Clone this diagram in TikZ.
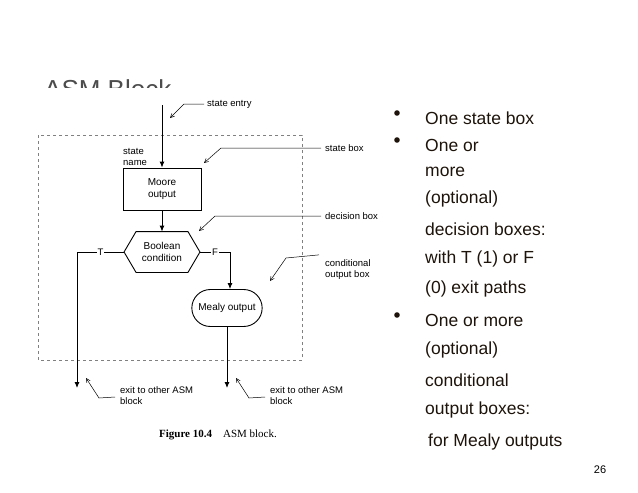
\documentclass[tikz,border=0pt]{standalone}
\usepackage{fontspec}
\setmainfont{Liberation Sans}
\newfontfamily\capfont{Liberation Serif}
\usetikzlibrary{shapes.misc,arrows.meta}
\begin{document}
\begin{tikzpicture}[x=1pt,y=-1pt,
  lbl/.style={font=\fontsize{9.5}{11}\selectfont,align=left,anchor=west,inner sep=0pt},
  flow/.style={draw,line width=0.9pt,-{Latex[length=6pt,width=5pt]}},
  ptr/.style={draw,line width=0.5pt,-{Straight Barb[length=4pt,width=4pt]}},
  blk/.style={draw,line width=0.9pt,font=\fontsize{10}{12}\selectfont,align=center},
  bul/.style={font=\fontsize{17.5}{19}\selectfont,anchor=west,inner sep=0pt,text=black!85!brown}]
\useasboundingbox (0,0) rectangle (638,493);
% clipped title
\begin{scope}
\clip (0,60) rectangle (300,87);
\node[anchor=west,inner sep=0pt,text=black!70,font=\fontsize{26}{28}\selectfont] (title) at (44,89) {ASM Block};
\end{scope}
% dashed block
\draw[dashed,gray,line width=0.5pt] (38,135) rectangle (302,360);
% boxes
\node[blk,minimum width=78pt,minimum height=42pt] (moore) at (162,189) {Moore\\output};
\node[blk,draw=none,minimum width=75pt,minimum height=40pt] (cond) at (162,252) {Boolean\\condition};
\draw[line width=0.9pt] (cond.west) -- ([xshift=12pt]cond.north west) -- ([xshift=-12pt]cond.north east) -- (cond.east) -- ([xshift=-12pt]cond.south east) -- ([xshift=12pt]cond.south west) -- cycle;
\node[blk,rounded rectangle,minimum width=77pt,minimum height=37pt] (mealy) at (227,308) {Mealy output};
\coordinate (entry) at (162,105);
\coordinate (tturn) at (77,252);
\coordinate (texit) at (77,388);
\coordinate (fturn) at (230,252);
\coordinate (fexit) at (227,388);
% flow
\draw[flow] (entry) -- (moore.north);
\draw[flow] (moore.south) -- (cond.north);
\draw[flow] (cond.west) -- node[fill=white,inner sep=1pt,font=\fontsize{9.5}{10}\selectfont]{T} (tturn) -- (texit);
\draw[flow] (cond.east) -- node[fill=white,inner sep=1pt,font=\fontsize{9.5}{10}\selectfont]{F} (fturn) -- (fturn|-mealy.north);
\draw[flow] (mealy.south) -- (fexit);
% labels
\node[lbl] (sentry) at (207,104) {state entry};
\node[lbl] (sname) at (123,157) {state\\name};
\node[lbl] (sbox) at (325,148) {state box};
\node[lbl] (dbox) at (325,216) {decision box};
\node[lbl] (cbox) at (325,270) {conditional\\output box};
\node[lbl] (ex1) at (120,396) {exit to other ASM\\block};
\node[lbl] (ex2) at (270,396) {exit to other ASM\\block};
\coordinate (p1) at (170,118); \coordinate (p2) at (204,163);
\coordinate (p3) at (199,231); \coordinate (p4) at (270,281);
\coordinate (p5) at (86,378); \coordinate (p6) at (236,378);
\draw[ptr] ([xshift=-3pt]sentry.west) -- (184,104) -- (p1);
\draw[ptr] ([xshift=-4pt]sbox.west) -- (221,148) -- (p2);
\draw[ptr] ([xshift=-4pt]dbox.west) -- (215,216) -- (p3);
\draw[ptr] ([xshift=-6pt,yshift=5pt]cbox.north west) -- (286,258) -- (p4);
\draw[ptr] ([xshift=-5pt,yshift=-1pt]ex1.west) -- (99,398) -- (p5);
\draw[ptr] ([xshift=-5pt,yshift=-1pt]ex2.west) -- (249,398) -- (p6);
\node[inner sep=0pt,font=\capfont\fontsize{11}{12}\selectfont] (fig) at (218,435) {\textbf{Figure 10.4}\quad ASM block.};
% bullets
\foreach \t/\y in {{One state box}/118,{One or}/145,{more}/172,{(optional)}/199,{decision boxes:}/229,{with T (1) or F}/259,{(0) exit paths}/289,{One or more}/320,{(optional)}/350,{conditional}/380,{output boxes:}/410}
  \node[bul] at (425,\y) {\t};
\node[bul] (last) at (428,442) {for Mealy outputs};
\foreach \y in {118,145,320}
  \fill[black!85!brown] (397,\y-5) circle (2.8pt);
\node[inner sep=0pt,font=\fontsize{11}{12}\selectfont] (pg) at (600,470) {26};
\end{tikzpicture}
\end{document}
